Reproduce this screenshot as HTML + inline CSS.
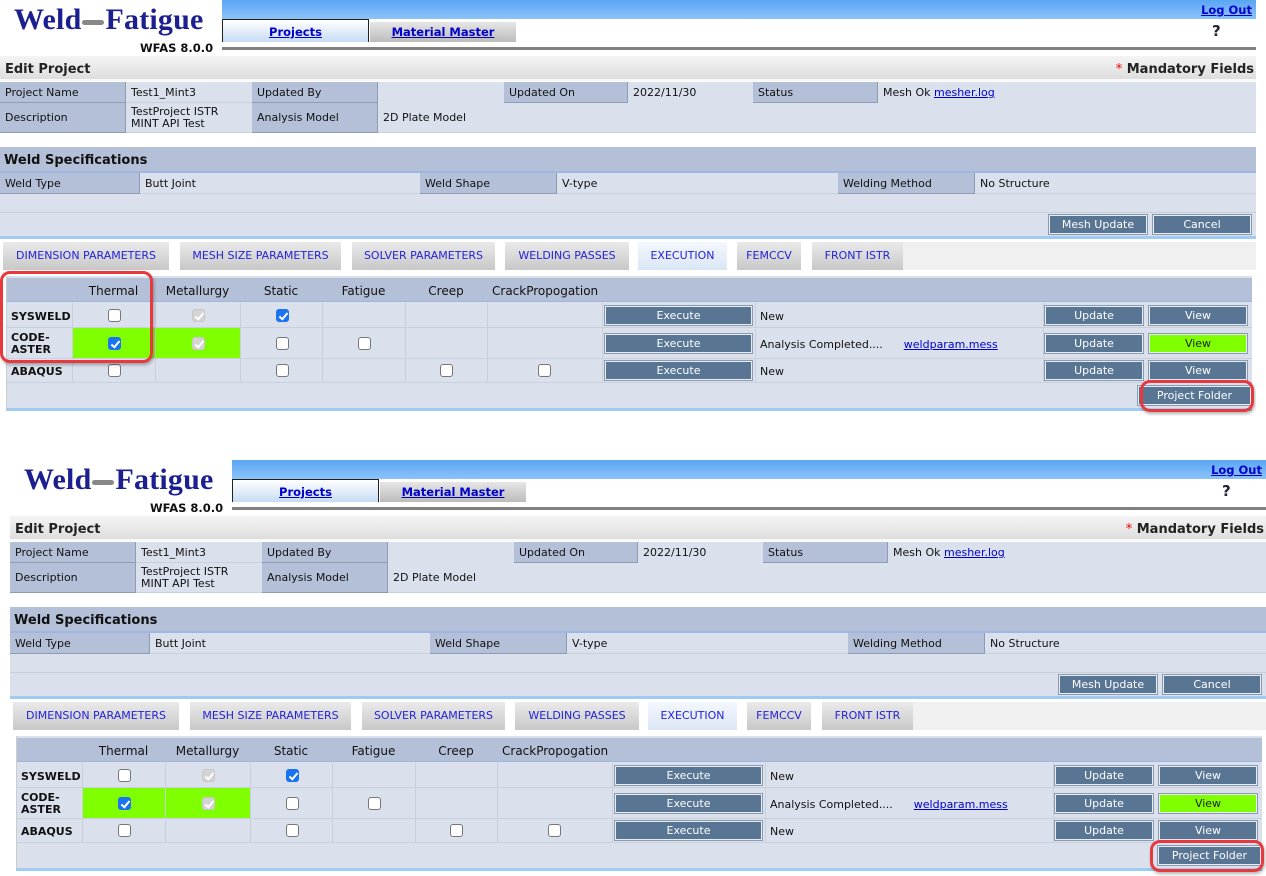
<!DOCTYPE html>
<html><head><meta charset="utf-8">
<style>
*{box-sizing:border-box;margin:0;padding:0}
body{width:1266px;height:876px;background:#fff;position:relative;overflow:hidden;font-family:"DejaVu Sans","Liberation Sans",sans-serif;font-size:11px;color:#111}
.p{position:absolute;width:1256px;height:416px;overflow:hidden}
.a{position:absolute}
.logo{left:14px;top:3px;font-family:"Liberation Serif",serif;font-weight:bold;font-size:30px;color:#1b1f8f;letter-spacing:0.2px}
.logo span{display:inline-block;width:22px;height:5px;background:#888;vertical-align:middle;margin:0 1px;border-radius:3px}
.ver{left:140px;top:41px;font-weight:bold;font-size:11.5px}
.bar{left:222px;top:0;width:1034px;height:19px;background:linear-gradient(#5aa5f5,#8cc3f8)}
.logout{right:4px;top:3px;color:#00c;font-weight:bold;text-decoration:underline;font-size:11.5px}
.t1{left:222px;top:19px;width:147px;height:23px;background:linear-gradient(#fff,#c7dcf5);border:1px solid #222;border-bottom:none;text-align:center;padding-top:5px}
.t2{left:370px;top:22px;width:146px;height:20px;background:linear-gradient(#e6e6e6,#bcbcbc);text-align:center;padding-top:3px}
.t1 b,.t2 b{color:#00c;text-decoration:underline;font-size:11.5px}
.q{left:1212px;top:22px;font-weight:bold;font-size:15px;color:#223}
.gl{left:222px;top:47px;width:1034px;height:3px;background:#808080}
.ep{left:0;top:56px;width:1256px;height:25px;background:linear-gradient(#f4f4f4,#dedede);border-bottom:2px solid #f8f8f8}
.ep b{position:absolute;left:5px;top:6px;font-size:13px;color:#222}
.mf{right:2px;top:6px;font-size:13px;font-weight:bold;color:#222}
.mf i{color:#e00;font-style:normal;font-weight:normal}
.L{background:#b4c0d8;border-right:1px solid #8e9bb5;border-bottom:1px solid #8e9bb5}
.V{background:#dae1ec;border-bottom:1px solid #c8d0dc}
.c{position:absolute;padding:3px 5px;line-height:12px}
.c.L,.c.V,.c.y{padding-top:5px}
.hd{background:#b4c0d8;font-weight:bold;font-size:13px;padding:6px 4px;border-bottom:2px solid #9fb6e3}
.btn{position:absolute;background:#587593;color:#fff;text-align:center;border:1px solid #e8edf4;outline:1px solid #8a9ab0;font-size:11px;line-height:17px;height:19px}
.tb{position:absolute;top:242px;height:28px;background:linear-gradient(#eaeaea,#c8c8c8);color:#2323d8;text-align:center;line-height:28px;font-size:11px}
.tb.s{background:linear-gradient(#f4f8ff,#dbe6f5)}
.cb{position:absolute;width:13px;height:13px;border:1px solid #777;border-radius:3px;background:#fff}
.cb.k{background:#1a73f0;border-color:#1a73f0}
.cb.d{background:#d4d4d4;border-color:#c8c8c8}
.cb.k::after,.cb.d::after{content:"";position:absolute;left:3.5px;top:1px;width:3px;height:7px;border:solid #fff;border-width:0 2px 2px 0;transform:rotate(40deg)}
.vl{position:absolute;top:303px;height:80px;width:1px;background:#c8d0dc}
.red{position:absolute;border:3px solid #e8383c;border-radius:10px;box-shadow:1px 2px 3px rgba(0,0,0,.3)}
</style></head><body>

<!-- PANEL TOP -->
<div class="p" style="left:0;top:0">
<div class="a logo">Weld<span></span>Fatigue</div>
<div class="a ver">WFAS 8.0.0</div>
<div class="a bar"><div class="a logout">Log Out</div></div>
<div class="a t1"><b>Projects</b></div>
<div class="a t2"><b>Material Master</b></div>
<div class="a q">?</div>
<div class="a gl"></div>
<div class="a ep"><b>Edit Project</b><div class="a mf"><i>*</i> Mandatory Fields</div></div>
<div class="a V" style="left:0;top:82px;width:1256px;height:51px"></div>
<div class="c L" style="left:0;top:82px;width:126px;height:21px">Project Name</div>
<div class="c V" style="left:126px;top:82px;width:126px;height:21px">Test1_Mint3</div>
<div class="c L" style="left:252px;top:82px;width:126px;height:21px">Updated By</div>
<div class="c L" style="left:504px;top:82px;width:124px;height:21px">Updated On</div>
<div class="c y" style="left:628px;top:82px">2022/11/30</div>
<div class="c L" style="left:753px;top:82px;width:125px;height:21px">Status</div>
<div class="c y" style="left:878px;top:82px">Mesh Ok <u style="color:#00c">mesher.log</u></div>
<div class="c L" style="left:0;top:103px;width:126px;height:30px;padding-top:9px">Description</div>
<div class="c" style="left:126px;top:103px;width:126px;height:30px;padding-top:3px">TestProject ISTR MINT API Test</div>
<div class="c L" style="left:252px;top:103px;width:126px;height:30px;padding-top:9px">Analysis Model</div>
<div class="c" style="left:378px;top:103px;padding-top:9px">2D Plate Model</div>
<div class="a" style="left:0;top:147px;width:1256px;height:92px;background:#dae1ec;border-bottom:3px solid #9fcaf3"></div>
<div class="a hd" style="left:0;top:147px;width:1256px;height:26px">Weld Specifications</div>
<div class="c L" style="left:0;top:173px;width:140px;height:21px">Weld Type</div>
<div class="c V" style="left:140px;top:173px;width:280px;height:21px">Butt Joint</div>
<div class="c L" style="left:420px;top:173px;width:137px;height:21px">Weld Shape</div>
<div class="c V" style="left:557px;top:173px;width:281px;height:21px">V-type</div>
<div class="c L" style="left:838px;top:173px;width:137px;height:21px">Welding Method</div>
<div class="c V" style="left:975px;top:173px;width:281px;height:21px">No Structure</div>
<div class="a" style="left:0;top:212px;width:1256px;height:1px;background:#c8d0dc"></div>
<div class="btn" style="left:1049px;top:215px;width:98px">Mesh Update</div>
<div class="btn" style="left:1153px;top:215px;width:98px">Cancel</div>
<div class="tb" style="left:3px;width:166px">DIMENSION PARAMETERS</div>
<div class="tb" style="left:180px;width:161px">MESH SIZE PARAMETERS</div>
<div class="tb" style="left:352px;width:143px">SOLVER PARAMETERS</div>
<div class="tb" style="left:505px;width:124px">WELDING PASSES</div>
<div class="tb s" style="left:638px;width:89px">EXECUTION</div>
<div class="tb" style="left:737px;width:64px">FEMCCV</div>
<div class="tb" style="left:812px;width:91px">FRONT ISTR</div>
<div class="a" style="left:903px;top:242px;width:353px;height:28px;background:#f0f0f0"></div>
<div class="a" style="left:6px;top:276px;width:1246px;height:135px;background:#dae1ec;border-bottom:3px solid #9fcaf3;border-left:1px solid #ccc"></div>
<div class="a" style="left:7px;top:278px;width:1245px;height:24px;background:#b4c0d8;border-bottom:1px solid #9fb6e3"></div>
<div class="c" style="left:72px;top:282px;width:83px;text-align:center;font-size:12px">Thermal</div>
<div class="c" style="left:155px;top:282px;width:85px;text-align:center;font-size:12px">Metallurgy</div>
<div class="c" style="left:240px;top:282px;width:82px;text-align:center;font-size:12px">Static</div>
<div class="c" style="left:322px;top:282px;width:83px;text-align:center;font-size:12px">Fatigue</div>
<div class="c" style="left:405px;top:282px;width:82px;text-align:center;font-size:12px">Creep</div>
<div class="c" style="left:487px;top:282px;width:115px;text-align:center;font-size:12px">CrackPropogation</div>
<div class="a" style="left:72px;top:328px;width:83px;height:30px;background:#7fff00"></div>
<div class="a" style="left:155px;top:328px;width:85px;height:30px;background:#7fff00"></div>
<div class="a" style="left:7px;top:327px;width:1245px;height:1px;background:#c8d0dc"></div>
<div class="a" style="left:7px;top:358px;width:1245px;height:1px;background:#c8d0dc"></div>
<div class="a" style="left:7px;top:382px;width:1245px;height:1px;background:#c8d0dc"></div>
<div class="vl" style="left:72px"></div><div class="vl" style="left:155px"></div><div class="vl" style="left:240px"></div><div class="vl" style="left:322px"></div><div class="vl" style="left:405px"></div><div class="vl" style="left:487px"></div><div class="vl" style="left:602px"></div><div class="vl" style="left:755px"></div><div class="vl" style="left:1043px"></div>
<div class="c" style="left:6px;top:308px;font-weight:bold">SYSWELD</div>
<div class="c" style="left:6px;top:329px;font-weight:bold">CODE-<br>ASTER</div>
<div class="c" style="left:6px;top:363px;font-weight:bold">ABAQUS</div>
<div class="cb" style="left:108px;top:309px"></div><div class="cb d" style="left:192px;top:309px"></div><div class="cb k" style="left:276px;top:309px"></div>
<div class="cb k" style="left:108px;top:337px"></div><div class="cb d" style="left:192px;top:337px"></div><div class="cb" style="left:276px;top:337px"></div><div class="cb" style="left:358px;top:337px"></div>
<div class="cb" style="left:108px;top:364px"></div><div class="cb" style="left:276px;top:364px"></div><div class="cb" style="left:440px;top:364px"></div><div class="cb" style="left:538px;top:364px"></div>
<div class="btn" style="left:605px;top:306px;width:147px">Execute</div>
<div class="btn" style="left:605px;top:334px;width:147px">Execute</div>
<div class="btn" style="left:605px;top:361px;width:147px">Execute</div>
<div class="c" style="left:755px;top:308px">New</div>
<div class="c" style="left:755px;top:336px">Analysis Completed....&nbsp;&nbsp;&nbsp;&nbsp;&nbsp; <u style="color:#00c">weldparam.mess</u></div>
<div class="c" style="left:755px;top:363px">New</div>
<div class="btn" style="left:1045px;top:306px;width:98px">Update</div>
<div class="btn" style="left:1045px;top:334px;width:98px">Update</div>
<div class="btn" style="left:1045px;top:361px;width:98px">Update</div>
<div class="btn" style="left:1149px;top:306px;width:98px">View</div>
<div class="btn" style="left:1149px;top:334px;width:98px;background:#7fff00;color:#222">View</div>
<div class="btn" style="left:1149px;top:361px;width:98px">View</div>
<div class="btn" style="left:1138px;top:386px;width:113px">Project Folder</div>
<div class="red" style="left:0;top:271px;width:153px;height:92px"></div>
<div class="red" style="left:1140px;top:380px;width:114px;height:32px"></div>
</div>

<!-- PANEL BOTTOM -->
<div class="p" style="left:10px;top:460px">
<div class="a logo">Weld<span></span>Fatigue</div>
<div class="a ver">WFAS 8.0.0</div>
<div class="a bar"><div class="a logout">Log Out</div></div>
<div class="a t1"><b>Projects</b></div>
<div class="a t2"><b>Material Master</b></div>
<div class="a q">?</div>
<div class="a gl"></div>
<div class="a ep"><b>Edit Project</b><div class="a mf"><i>*</i> Mandatory Fields</div></div>
<div class="a V" style="left:0;top:82px;width:1256px;height:51px"></div>
<div class="c L" style="left:0;top:82px;width:126px;height:21px">Project Name</div>
<div class="c V" style="left:126px;top:82px;width:126px;height:21px">Test1_Mint3</div>
<div class="c L" style="left:252px;top:82px;width:126px;height:21px">Updated By</div>
<div class="c L" style="left:504px;top:82px;width:124px;height:21px">Updated On</div>
<div class="c y" style="left:628px;top:82px">2022/11/30</div>
<div class="c L" style="left:753px;top:82px;width:125px;height:21px">Status</div>
<div class="c y" style="left:878px;top:82px">Mesh Ok <u style="color:#00c">mesher.log</u></div>
<div class="c L" style="left:0;top:103px;width:126px;height:30px;padding-top:9px">Description</div>
<div class="c" style="left:126px;top:103px;width:126px;height:30px;padding-top:3px">TestProject ISTR MINT API Test</div>
<div class="c L" style="left:252px;top:103px;width:126px;height:30px;padding-top:9px">Analysis Model</div>
<div class="c" style="left:378px;top:103px;padding-top:9px">2D Plate Model</div>
<div class="a" style="left:0;top:147px;width:1256px;height:92px;background:#dae1ec;border-bottom:3px solid #9fcaf3"></div>
<div class="a hd" style="left:0;top:147px;width:1256px;height:26px">Weld Specifications</div>
<div class="c L" style="left:0;top:173px;width:140px;height:21px">Weld Type</div>
<div class="c V" style="left:140px;top:173px;width:280px;height:21px">Butt Joint</div>
<div class="c L" style="left:420px;top:173px;width:137px;height:21px">Weld Shape</div>
<div class="c V" style="left:557px;top:173px;width:281px;height:21px">V-type</div>
<div class="c L" style="left:838px;top:173px;width:137px;height:21px">Welding Method</div>
<div class="c V" style="left:975px;top:173px;width:281px;height:21px">No Structure</div>
<div class="a" style="left:0;top:212px;width:1256px;height:1px;background:#c8d0dc"></div>
<div class="btn" style="left:1049px;top:215px;width:98px">Mesh Update</div>
<div class="btn" style="left:1153px;top:215px;width:98px">Cancel</div>
<div class="tb" style="left:3px;width:166px">DIMENSION PARAMETERS</div>
<div class="tb" style="left:180px;width:161px">MESH SIZE PARAMETERS</div>
<div class="tb" style="left:352px;width:143px">SOLVER PARAMETERS</div>
<div class="tb" style="left:505px;width:124px">WELDING PASSES</div>
<div class="tb s" style="left:638px;width:89px">EXECUTION</div>
<div class="tb" style="left:737px;width:64px">FEMCCV</div>
<div class="tb" style="left:812px;width:91px">FRONT ISTR</div>
<div class="a" style="left:903px;top:242px;width:353px;height:28px;background:#f0f0f0"></div>
<div class="a" style="left:6px;top:276px;width:1246px;height:135px;background:#dae1ec;border-bottom:3px solid #9fcaf3;border-left:1px solid #ccc"></div>
<div class="a" style="left:7px;top:278px;width:1245px;height:24px;background:#b4c0d8;border-bottom:1px solid #9fb6e3"></div>
<div class="c" style="left:72px;top:282px;width:83px;text-align:center;font-size:12px">Thermal</div>
<div class="c" style="left:155px;top:282px;width:85px;text-align:center;font-size:12px">Metallurgy</div>
<div class="c" style="left:240px;top:282px;width:82px;text-align:center;font-size:12px">Static</div>
<div class="c" style="left:322px;top:282px;width:83px;text-align:center;font-size:12px">Fatigue</div>
<div class="c" style="left:405px;top:282px;width:82px;text-align:center;font-size:12px">Creep</div>
<div class="c" style="left:487px;top:282px;width:115px;text-align:center;font-size:12px">CrackPropogation</div>
<div class="a" style="left:72px;top:328px;width:83px;height:30px;background:#7fff00"></div>
<div class="a" style="left:155px;top:328px;width:85px;height:30px;background:#7fff00"></div>
<div class="a" style="left:7px;top:327px;width:1245px;height:1px;background:#c8d0dc"></div>
<div class="a" style="left:7px;top:358px;width:1245px;height:1px;background:#c8d0dc"></div>
<div class="a" style="left:7px;top:382px;width:1245px;height:1px;background:#c8d0dc"></div>
<div class="vl" style="left:72px"></div><div class="vl" style="left:155px"></div><div class="vl" style="left:240px"></div><div class="vl" style="left:322px"></div><div class="vl" style="left:405px"></div><div class="vl" style="left:487px"></div><div class="vl" style="left:602px"></div><div class="vl" style="left:755px"></div><div class="vl" style="left:1043px"></div>
<div class="c" style="left:6px;top:308px;font-weight:bold">SYSWELD</div>
<div class="c" style="left:6px;top:329px;font-weight:bold">CODE-<br>ASTER</div>
<div class="c" style="left:6px;top:363px;font-weight:bold">ABAQUS</div>
<div class="cb" style="left:108px;top:309px"></div><div class="cb d" style="left:192px;top:309px"></div><div class="cb k" style="left:276px;top:309px"></div>
<div class="cb k" style="left:108px;top:337px"></div><div class="cb d" style="left:192px;top:337px"></div><div class="cb" style="left:276px;top:337px"></div><div class="cb" style="left:358px;top:337px"></div>
<div class="cb" style="left:108px;top:364px"></div><div class="cb" style="left:276px;top:364px"></div><div class="cb" style="left:440px;top:364px"></div><div class="cb" style="left:538px;top:364px"></div>
<div class="btn" style="left:605px;top:306px;width:147px">Execute</div>
<div class="btn" style="left:605px;top:334px;width:147px">Execute</div>
<div class="btn" style="left:605px;top:361px;width:147px">Execute</div>
<div class="c" style="left:755px;top:308px">New</div>
<div class="c" style="left:755px;top:336px">Analysis Completed....&nbsp;&nbsp;&nbsp;&nbsp;&nbsp; <u style="color:#00c">weldparam.mess</u></div>
<div class="c" style="left:755px;top:363px">New</div>
<div class="btn" style="left:1045px;top:306px;width:98px">Update</div>
<div class="btn" style="left:1045px;top:334px;width:98px">Update</div>
<div class="btn" style="left:1045px;top:361px;width:98px">Update</div>
<div class="btn" style="left:1149px;top:306px;width:98px">View</div>
<div class="btn" style="left:1149px;top:334px;width:98px;background:#7fff00;color:#222">View</div>
<div class="btn" style="left:1149px;top:361px;width:98px">View</div>
<div class="btn" style="left:1148px;top:386px;width:103px">Project Folder</div>
<div class="red" style="left:1140px;top:380px;width:114px;height:32px"></div>
</div>

</body></html>
